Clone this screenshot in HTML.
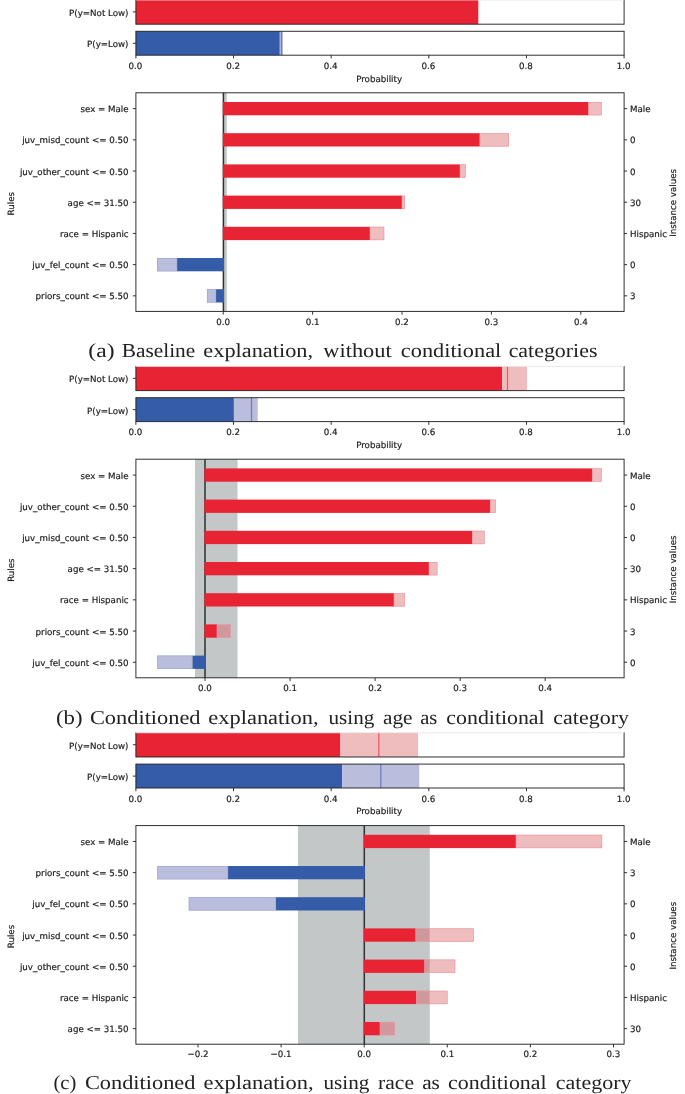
<!DOCTYPE html>
<html><head><meta charset="utf-8"><title>Explanations</title>
<style>html,body{margin:0;padding:0;background:#fff}svg{display:block}text{text-rendering:geometricPrecision;stroke:#1a1a1a;stroke-width:.18px}text.cap{stroke:none}</style></head>
<body>
<svg width="685" height="1094" viewBox="0 0 685 1094" font-family="'DejaVu Sans', 'Liberation Sans', sans-serif" font-size="8.68" fill="#1a1a1a">
<rect width="685" height="1094" fill="#fff"/>
<g transform="translate(0,0.00)">
<rect x="135.90" y="0.00" width="342.10" height="24.20" fill="#e82333" />
<rect x="478.00" y="0.00" width="1.20" height="24.20" fill="#f0bdbf" />
<line x1="135.90" y1="-0.40" x2="135.90" y2="24.60" stroke="#262626" stroke-width="0.95" />
<line x1="624.10" y1="-0.40" x2="624.10" y2="24.60" stroke="#262626" stroke-width="0.95" />
<line x1="135.90" y1="24.20" x2="624.10" y2="24.20" stroke="#262626" stroke-width="0.95" />
<line x1="135.90" y1="0.00" x2="624.10" y2="0.00" stroke="#e4e4e4" stroke-width="0.8" />
<line x1="132.90" y1="11.90" x2="135.90" y2="11.90" stroke="#262626" stroke-width="0.95" />
<text x="128.50" y="15.80" text-anchor="end" >P(y=Not Low)</text>
<rect x="135.90" y="31.30" width="143.90" height="23.90" fill="#355ca8" />
<rect x="279.80" y="31.30" width="3.10" height="23.90" fill="#bbbddc" />
<line x1="281.50" y1="31.30" x2="281.50" y2="55.20" stroke="#6f7cbe" stroke-width="1.25" />
<line x1="135.90" y1="30.90" x2="135.90" y2="55.60" stroke="#262626" stroke-width="0.95" />
<line x1="624.10" y1="30.90" x2="624.10" y2="55.60" stroke="#262626" stroke-width="0.95" />
<line x1="135.90" y1="55.20" x2="624.10" y2="55.20" stroke="#262626" stroke-width="0.95" />
<line x1="135.90" y1="31.30" x2="624.10" y2="31.30" stroke="#262626" stroke-width="0.95" />
<line x1="132.90" y1="43.30" x2="135.90" y2="43.30" stroke="#262626" stroke-width="0.95" />
<text x="128.50" y="47.30" text-anchor="end" >P(y=Low)</text>
<line x1="135.90" y1="55.20" x2="135.90" y2="58.40" stroke="#262626" stroke-width="0.95" />
<text x="135.40" y="68.80" text-anchor="middle" >0.0</text>
<line x1="233.54" y1="55.20" x2="233.54" y2="58.40" stroke="#262626" stroke-width="0.95" />
<text x="233.04" y="68.80" text-anchor="middle" >0.2</text>
<line x1="331.18" y1="55.20" x2="331.18" y2="58.40" stroke="#262626" stroke-width="0.95" />
<text x="330.68" y="68.80" text-anchor="middle" >0.4</text>
<line x1="428.82" y1="55.20" x2="428.82" y2="58.40" stroke="#262626" stroke-width="0.95" />
<text x="428.32" y="68.80" text-anchor="middle" >0.6</text>
<line x1="526.46" y1="55.20" x2="526.46" y2="58.40" stroke="#262626" stroke-width="0.95" />
<text x="525.96" y="68.80" text-anchor="middle" >0.8</text>
<line x1="624.10" y1="55.20" x2="624.10" y2="58.40" stroke="#262626" stroke-width="0.95" />
<text x="623.60" y="68.80" text-anchor="middle" >1.0</text>
<text x="379.10" y="81.70" text-anchor="middle" >Probability</text>
<rect x="223.40" y="92.80" width="3.40" height="218.60" fill="#c3c7c8" />
<line x1="223.40" y1="92.80" x2="223.40" y2="311.40" stroke="#2e3032" stroke-width="1.5" />
<rect x="222.80" y="102.00" width="365.70" height="13.30" fill="#e82333" />
<rect x="588.50" y="102.00" width="13.20" height="13.30" fill="#f0bdbf" />
<rect x="588.50" y="102.30" width="12.90" height="12.70" fill="none" stroke="#e79aa2" stroke-width="0.7" opacity="0.9"/>
<line x1="132.90" y1="108.65" x2="135.90" y2="108.65" stroke="#262626" stroke-width="0.95" />
<line x1="624.10" y1="108.65" x2="627.10" y2="108.65" stroke="#262626" stroke-width="0.95" />
<text x="128.60" y="112.15" text-anchor="end" >sex = Male</text>
<text x="630.00" y="112.15" text-anchor="start" >Male</text>
<rect x="222.80" y="133.20" width="257.10" height="13.30" fill="#e82333" />
<rect x="479.90" y="133.20" width="29.00" height="13.30" fill="#f0bdbf" />
<rect x="479.90" y="133.50" width="28.70" height="12.70" fill="none" stroke="#e79aa2" stroke-width="0.7" opacity="0.9"/>
<line x1="132.90" y1="139.85" x2="135.90" y2="139.85" stroke="#262626" stroke-width="0.95" />
<line x1="624.10" y1="139.85" x2="627.10" y2="139.85" stroke="#262626" stroke-width="0.95" />
<text x="128.60" y="143.35" text-anchor="end" >juv_misd_count &lt;= 0.50</text>
<text x="630.00" y="143.35" text-anchor="start" >0</text>
<rect x="222.80" y="164.40" width="237.20" height="13.30" fill="#e82333" />
<rect x="460.00" y="164.40" width="5.70" height="13.30" fill="#f0bdbf" />
<rect x="460.00" y="164.70" width="5.40" height="12.70" fill="none" stroke="#e79aa2" stroke-width="0.7" opacity="0.9"/>
<line x1="132.90" y1="171.05" x2="135.90" y2="171.05" stroke="#262626" stroke-width="0.95" />
<line x1="624.10" y1="171.05" x2="627.10" y2="171.05" stroke="#262626" stroke-width="0.95" />
<text x="128.60" y="174.55" text-anchor="end" >juv_other_count &lt;= 0.50</text>
<text x="630.00" y="174.55" text-anchor="start" >0</text>
<rect x="222.80" y="195.60" width="179.20" height="13.30" fill="#e82333" />
<rect x="402.00" y="195.60" width="3.00" height="13.30" fill="#f0bdbf" />
<rect x="402.00" y="195.90" width="2.70" height="12.70" fill="none" stroke="#e79aa2" stroke-width="0.7" opacity="0.9"/>
<line x1="132.90" y1="202.25" x2="135.90" y2="202.25" stroke="#262626" stroke-width="0.95" />
<line x1="624.10" y1="202.25" x2="627.10" y2="202.25" stroke="#262626" stroke-width="0.95" />
<text x="128.60" y="205.75" text-anchor="end" >age &lt;= 31.50</text>
<text x="630.00" y="205.75" text-anchor="start" >30</text>
<rect x="222.80" y="226.80" width="147.20" height="13.30" fill="#e82333" />
<rect x="370.00" y="226.80" width="14.20" height="13.30" fill="#f0bdbf" />
<rect x="370.00" y="227.10" width="13.90" height="12.70" fill="none" stroke="#e79aa2" stroke-width="0.7" opacity="0.9"/>
<line x1="132.90" y1="233.45" x2="135.90" y2="233.45" stroke="#262626" stroke-width="0.95" />
<line x1="624.10" y1="233.45" x2="627.10" y2="233.45" stroke="#262626" stroke-width="0.95" />
<text x="128.60" y="236.95" text-anchor="end" >race = Hispanic</text>
<text x="630.00" y="236.95" text-anchor="start" >Hispanic</text>
<rect x="176.90" y="258.00" width="47.10" height="13.30" fill="#355ca8" />
<rect x="157.10" y="258.00" width="19.80" height="13.30" fill="#bbbddc" />
<rect x="157.40" y="258.30" width="19.50" height="12.70" fill="none" stroke="#9da2cf" stroke-width="0.7" opacity="0.9"/>
<line x1="132.90" y1="264.65" x2="135.90" y2="264.65" stroke="#262626" stroke-width="0.95" />
<line x1="624.10" y1="264.65" x2="627.10" y2="264.65" stroke="#262626" stroke-width="0.95" />
<text x="128.60" y="268.15" text-anchor="end" >juv_fel_count &lt;= 0.50</text>
<text x="630.00" y="268.15" text-anchor="start" >0</text>
<rect x="215.80" y="289.20" width="8.20" height="13.30" fill="#355ca8" />
<rect x="207.00" y="289.20" width="8.80" height="13.30" fill="#bbbddc" />
<rect x="207.30" y="289.50" width="8.50" height="12.70" fill="none" stroke="#9da2cf" stroke-width="0.7" opacity="0.9"/>
<line x1="132.90" y1="295.85" x2="135.90" y2="295.85" stroke="#262626" stroke-width="0.95" />
<line x1="624.10" y1="295.85" x2="627.10" y2="295.85" stroke="#262626" stroke-width="0.95" />
<text x="128.60" y="299.35" text-anchor="end" >priors_count &lt;= 5.50</text>
<text x="630.00" y="299.35" text-anchor="start" >3</text>
<rect x="135.90" y="92.80" width="488.20" height="218.60" fill="none" stroke="#262626" stroke-width="0.95"/>
<line x1="223.20" y1="311.40" x2="223.20" y2="314.60" stroke="#262626" stroke-width="0.95" />
<text x="223.20" y="324.70" text-anchor="middle" >0.0</text>
<line x1="312.60" y1="311.40" x2="312.60" y2="314.60" stroke="#262626" stroke-width="0.95" />
<text x="312.60" y="324.70" text-anchor="middle" >0.1</text>
<line x1="402.00" y1="311.40" x2="402.00" y2="314.60" stroke="#262626" stroke-width="0.95" />
<text x="402.00" y="324.70" text-anchor="middle" >0.2</text>
<line x1="491.40" y1="311.40" x2="491.40" y2="314.60" stroke="#262626" stroke-width="0.95" />
<text x="491.40" y="324.70" text-anchor="middle" >0.3</text>
<line x1="580.80" y1="311.40" x2="580.80" y2="314.60" stroke="#262626" stroke-width="0.95" />
<text x="580.80" y="324.70" text-anchor="middle" >0.4</text>
<text transform="translate(14.1,203.70) rotate(-90)" text-anchor="middle">Rules</text>
<text transform="translate(676.2,202.90) rotate(-90)" text-anchor="middle">Instance values</text>
</g>
<g transform="translate(0,366.40)">
<rect x="135.90" y="0.00" width="366.40" height="24.20" fill="#e82333" />
<rect x="502.30" y="0.00" width="24.80" height="24.20" fill="#f0bdbf" />
<line x1="507.50" y1="0.00" x2="507.50" y2="24.20" stroke="#ea5a66" stroke-width="1.25" />
<line x1="135.90" y1="-0.40" x2="135.90" y2="24.60" stroke="#262626" stroke-width="0.95" />
<line x1="624.10" y1="-0.40" x2="624.10" y2="24.60" stroke="#262626" stroke-width="0.95" />
<line x1="135.90" y1="24.20" x2="624.10" y2="24.20" stroke="#262626" stroke-width="0.95" />
<line x1="135.90" y1="0.00" x2="624.10" y2="0.00" stroke="#e4e4e4" stroke-width="0.8" />
<line x1="132.90" y1="11.90" x2="135.90" y2="11.90" stroke="#262626" stroke-width="0.95" />
<text x="128.50" y="15.80" text-anchor="end" >P(y=Not Low)</text>
<rect x="135.90" y="31.30" width="98.00" height="23.90" fill="#355ca8" />
<rect x="233.90" y="31.30" width="23.80" height="23.90" fill="#bbbddc" />
<line x1="251.50" y1="31.30" x2="251.50" y2="55.20" stroke="#6f7cbe" stroke-width="1.25" />
<line x1="135.90" y1="30.90" x2="135.90" y2="55.60" stroke="#262626" stroke-width="0.95" />
<line x1="624.10" y1="30.90" x2="624.10" y2="55.60" stroke="#262626" stroke-width="0.95" />
<line x1="135.90" y1="55.20" x2="624.10" y2="55.20" stroke="#262626" stroke-width="0.95" />
<line x1="135.90" y1="31.30" x2="624.10" y2="31.30" stroke="#262626" stroke-width="0.95" />
<line x1="132.90" y1="43.30" x2="135.90" y2="43.30" stroke="#262626" stroke-width="0.95" />
<text x="128.50" y="47.30" text-anchor="end" >P(y=Low)</text>
<line x1="135.90" y1="55.20" x2="135.90" y2="58.40" stroke="#262626" stroke-width="0.95" />
<text x="135.40" y="68.80" text-anchor="middle" >0.0</text>
<line x1="233.54" y1="55.20" x2="233.54" y2="58.40" stroke="#262626" stroke-width="0.95" />
<text x="233.04" y="68.80" text-anchor="middle" >0.2</text>
<line x1="331.18" y1="55.20" x2="331.18" y2="58.40" stroke="#262626" stroke-width="0.95" />
<text x="330.68" y="68.80" text-anchor="middle" >0.4</text>
<line x1="428.82" y1="55.20" x2="428.82" y2="58.40" stroke="#262626" stroke-width="0.95" />
<text x="428.32" y="68.80" text-anchor="middle" >0.6</text>
<line x1="526.46" y1="55.20" x2="526.46" y2="58.40" stroke="#262626" stroke-width="0.95" />
<text x="525.96" y="68.80" text-anchor="middle" >0.8</text>
<line x1="624.10" y1="55.20" x2="624.10" y2="58.40" stroke="#262626" stroke-width="0.95" />
<text x="623.60" y="68.80" text-anchor="middle" >1.0</text>
<text x="379.10" y="81.70" text-anchor="middle" >Probability</text>
<rect x="195.00" y="92.80" width="42.50" height="218.60" fill="#c3c7c8" />
<line x1="205.00" y1="92.80" x2="205.00" y2="311.40" stroke="#2e3032" stroke-width="1.5" />
<rect x="204.40" y="102.00" width="387.90" height="13.30" fill="#e82333" />
<rect x="592.30" y="102.00" width="9.40" height="13.30" fill="#f0bdbf" />
<rect x="592.30" y="102.30" width="9.10" height="12.70" fill="none" stroke="#e79aa2" stroke-width="0.7" opacity="0.9"/>
<line x1="132.90" y1="108.65" x2="135.90" y2="108.65" stroke="#262626" stroke-width="0.95" />
<line x1="624.10" y1="108.65" x2="627.10" y2="108.65" stroke="#262626" stroke-width="0.95" />
<text x="128.60" y="112.15" text-anchor="end" >sex = Male</text>
<text x="630.00" y="112.15" text-anchor="start" >Male</text>
<rect x="204.40" y="133.20" width="285.90" height="13.30" fill="#e82333" />
<rect x="490.30" y="133.20" width="5.40" height="13.30" fill="#f0bdbf" />
<rect x="490.30" y="133.50" width="5.10" height="12.70" fill="none" stroke="#e79aa2" stroke-width="0.7" opacity="0.9"/>
<line x1="132.90" y1="139.85" x2="135.90" y2="139.85" stroke="#262626" stroke-width="0.95" />
<line x1="624.10" y1="139.85" x2="627.10" y2="139.85" stroke="#262626" stroke-width="0.95" />
<text x="128.60" y="143.35" text-anchor="end" >juv_other_count &lt;= 0.50</text>
<text x="630.00" y="143.35" text-anchor="start" >0</text>
<rect x="204.40" y="164.40" width="268.00" height="13.30" fill="#e82333" />
<rect x="472.40" y="164.40" width="12.20" height="13.30" fill="#f0bdbf" />
<rect x="472.40" y="164.70" width="11.90" height="12.70" fill="none" stroke="#e79aa2" stroke-width="0.7" opacity="0.9"/>
<line x1="132.90" y1="171.05" x2="135.90" y2="171.05" stroke="#262626" stroke-width="0.95" />
<line x1="624.10" y1="171.05" x2="627.10" y2="171.05" stroke="#262626" stroke-width="0.95" />
<text x="128.60" y="174.55" text-anchor="end" >juv_misd_count &lt;= 0.50</text>
<text x="630.00" y="174.55" text-anchor="start" >0</text>
<rect x="204.40" y="195.60" width="224.60" height="13.30" fill="#e82333" />
<rect x="429.00" y="195.60" width="8.40" height="13.30" fill="#f0bdbf" />
<rect x="429.00" y="195.90" width="8.10" height="12.70" fill="none" stroke="#e79aa2" stroke-width="0.7" opacity="0.9"/>
<line x1="132.90" y1="202.25" x2="135.90" y2="202.25" stroke="#262626" stroke-width="0.95" />
<line x1="624.10" y1="202.25" x2="627.10" y2="202.25" stroke="#262626" stroke-width="0.95" />
<text x="128.60" y="205.75" text-anchor="end" >age &lt;= 31.50</text>
<text x="630.00" y="205.75" text-anchor="start" >30</text>
<rect x="204.40" y="226.80" width="189.60" height="13.30" fill="#e82333" />
<rect x="394.00" y="226.80" width="10.90" height="13.30" fill="#f0bdbf" />
<rect x="394.00" y="227.10" width="10.60" height="12.70" fill="none" stroke="#e79aa2" stroke-width="0.7" opacity="0.9"/>
<line x1="132.90" y1="233.45" x2="135.90" y2="233.45" stroke="#262626" stroke-width="0.95" />
<line x1="624.10" y1="233.45" x2="627.10" y2="233.45" stroke="#262626" stroke-width="0.95" />
<text x="128.60" y="236.95" text-anchor="end" >race = Hispanic</text>
<text x="630.00" y="236.95" text-anchor="start" >Hispanic</text>
<rect x="204.40" y="258.00" width="12.60" height="13.30" fill="#e82333" />
<rect x="217.00" y="258.00" width="13.70" height="13.30" fill="#cf989d" />
<rect x="217.00" y="258.30" width="13.40" height="12.70" fill="none" stroke="#e79aa2" stroke-width="0.7" opacity="0.9"/>
<line x1="132.90" y1="264.65" x2="135.90" y2="264.65" stroke="#262626" stroke-width="0.95" />
<line x1="624.10" y1="264.65" x2="627.10" y2="264.65" stroke="#262626" stroke-width="0.95" />
<text x="128.60" y="268.15" text-anchor="end" >priors_count &lt;= 5.50</text>
<text x="630.00" y="268.15" text-anchor="start" >3</text>
<rect x="192.20" y="289.20" width="13.40" height="13.30" fill="#355ca8" />
<rect x="157.20" y="289.20" width="35.00" height="13.30" fill="#bbbddc" />
<rect x="157.50" y="289.50" width="34.70" height="12.70" fill="none" stroke="#9da2cf" stroke-width="0.7" opacity="0.9"/>
<line x1="132.90" y1="295.85" x2="135.90" y2="295.85" stroke="#262626" stroke-width="0.95" />
<line x1="624.10" y1="295.85" x2="627.10" y2="295.85" stroke="#262626" stroke-width="0.95" />
<text x="128.60" y="299.35" text-anchor="end" >juv_fel_count &lt;= 0.50</text>
<text x="630.00" y="299.35" text-anchor="start" >0</text>
<rect x="135.90" y="92.80" width="488.20" height="218.60" fill="none" stroke="#262626" stroke-width="0.95"/>
<line x1="205.00" y1="311.40" x2="205.00" y2="314.60" stroke="#262626" stroke-width="0.95" />
<text x="205.00" y="324.70" text-anchor="middle" >0.0</text>
<line x1="290.05" y1="311.40" x2="290.05" y2="314.60" stroke="#262626" stroke-width="0.95" />
<text x="290.05" y="324.70" text-anchor="middle" >0.1</text>
<line x1="375.10" y1="311.40" x2="375.10" y2="314.60" stroke="#262626" stroke-width="0.95" />
<text x="375.10" y="324.70" text-anchor="middle" >0.2</text>
<line x1="460.15" y1="311.40" x2="460.15" y2="314.60" stroke="#262626" stroke-width="0.95" />
<text x="460.15" y="324.70" text-anchor="middle" >0.3</text>
<line x1="545.20" y1="311.40" x2="545.20" y2="314.60" stroke="#262626" stroke-width="0.95" />
<text x="545.20" y="324.70" text-anchor="middle" >0.4</text>
<text transform="translate(14.1,203.70) rotate(-90)" text-anchor="middle">Rules</text>
<text transform="translate(676.2,202.90) rotate(-90)" text-anchor="middle">Instance values</text>
</g>
<g transform="translate(0,732.80)">
<rect x="135.90" y="0.00" width="204.50" height="24.20" fill="#e82333" />
<rect x="340.40" y="0.00" width="77.60" height="24.20" fill="#f0bdbf" />
<line x1="378.80" y1="0.00" x2="378.80" y2="24.20" stroke="#ea5a66" stroke-width="1.25" />
<line x1="135.90" y1="-0.40" x2="135.90" y2="24.60" stroke="#262626" stroke-width="0.95" />
<line x1="624.10" y1="-0.40" x2="624.10" y2="24.60" stroke="#262626" stroke-width="0.95" />
<line x1="135.90" y1="24.20" x2="624.10" y2="24.20" stroke="#262626" stroke-width="0.95" />
<line x1="135.90" y1="0.00" x2="624.10" y2="0.00" stroke="#e4e4e4" stroke-width="0.8" />
<line x1="132.90" y1="11.90" x2="135.90" y2="11.90" stroke="#262626" stroke-width="0.95" />
<text x="128.50" y="15.80" text-anchor="end" >P(y=Not Low)</text>
<rect x="135.90" y="31.30" width="206.20" height="23.90" fill="#355ca8" />
<rect x="342.10" y="31.30" width="77.20" height="23.90" fill="#bbbddc" />
<line x1="380.80" y1="31.30" x2="380.80" y2="55.20" stroke="#6f7cbe" stroke-width="1.25" />
<line x1="135.90" y1="30.90" x2="135.90" y2="55.60" stroke="#262626" stroke-width="0.95" />
<line x1="624.10" y1="30.90" x2="624.10" y2="55.60" stroke="#262626" stroke-width="0.95" />
<line x1="135.90" y1="55.20" x2="624.10" y2="55.20" stroke="#262626" stroke-width="0.95" />
<line x1="135.90" y1="31.30" x2="624.10" y2="31.30" stroke="#262626" stroke-width="0.95" />
<line x1="132.90" y1="43.30" x2="135.90" y2="43.30" stroke="#262626" stroke-width="0.95" />
<text x="128.50" y="47.30" text-anchor="end" >P(y=Low)</text>
<line x1="135.90" y1="55.20" x2="135.90" y2="58.40" stroke="#262626" stroke-width="0.95" />
<text x="135.40" y="68.80" text-anchor="middle" >0.0</text>
<line x1="233.54" y1="55.20" x2="233.54" y2="58.40" stroke="#262626" stroke-width="0.95" />
<text x="233.04" y="68.80" text-anchor="middle" >0.2</text>
<line x1="331.18" y1="55.20" x2="331.18" y2="58.40" stroke="#262626" stroke-width="0.95" />
<text x="330.68" y="68.80" text-anchor="middle" >0.4</text>
<line x1="428.82" y1="55.20" x2="428.82" y2="58.40" stroke="#262626" stroke-width="0.95" />
<text x="428.32" y="68.80" text-anchor="middle" >0.6</text>
<line x1="526.46" y1="55.20" x2="526.46" y2="58.40" stroke="#262626" stroke-width="0.95" />
<text x="525.96" y="68.80" text-anchor="middle" >0.8</text>
<line x1="624.10" y1="55.20" x2="624.10" y2="58.40" stroke="#262626" stroke-width="0.95" />
<text x="623.60" y="68.80" text-anchor="middle" >1.0</text>
<text x="379.10" y="81.70" text-anchor="middle" >Probability</text>
<rect x="298.00" y="92.80" width="131.80" height="218.60" fill="#c3c7c8" />
<line x1="364.30" y1="92.80" x2="364.30" y2="311.40" stroke="#2e3032" stroke-width="1.5" />
<rect x="363.70" y="102.00" width="152.30" height="13.30" fill="#e82333" />
<rect x="516.00" y="102.00" width="86.10" height="13.30" fill="#f0bdbf" />
<rect x="516.00" y="102.30" width="85.80" height="12.70" fill="none" stroke="#e79aa2" stroke-width="0.7" opacity="0.9"/>
<line x1="132.90" y1="108.65" x2="135.90" y2="108.65" stroke="#262626" stroke-width="0.95" />
<line x1="624.10" y1="108.65" x2="627.10" y2="108.65" stroke="#262626" stroke-width="0.95" />
<text x="128.60" y="112.15" text-anchor="end" >sex = Male</text>
<text x="630.00" y="112.15" text-anchor="start" >Male</text>
<rect x="227.80" y="133.20" width="137.10" height="13.30" fill="#355ca8" />
<rect x="157.30" y="133.20" width="70.50" height="13.30" fill="#bbbddc" />
<rect x="157.60" y="133.50" width="70.20" height="12.70" fill="none" stroke="#9da2cf" stroke-width="0.7" opacity="0.9"/>
<line x1="132.90" y1="139.85" x2="135.90" y2="139.85" stroke="#262626" stroke-width="0.95" />
<line x1="624.10" y1="139.85" x2="627.10" y2="139.85" stroke="#262626" stroke-width="0.95" />
<text x="128.60" y="143.35" text-anchor="end" >priors_count &lt;= 5.50</text>
<text x="630.00" y="143.35" text-anchor="start" >3</text>
<rect x="275.70" y="164.40" width="89.20" height="13.30" fill="#355ca8" />
<rect x="188.80" y="164.40" width="86.90" height="13.30" fill="#bbbddc" />
<rect x="189.10" y="164.70" width="86.60" height="12.70" fill="none" stroke="#9da2cf" stroke-width="0.7" opacity="0.9"/>
<line x1="132.90" y1="171.05" x2="135.90" y2="171.05" stroke="#262626" stroke-width="0.95" />
<line x1="624.10" y1="171.05" x2="627.10" y2="171.05" stroke="#262626" stroke-width="0.95" />
<text x="128.60" y="174.55" text-anchor="end" >juv_fel_count &lt;= 0.50</text>
<text x="630.00" y="174.55" text-anchor="start" >0</text>
<rect x="363.70" y="195.60" width="52.10" height="13.30" fill="#e82333" />
<rect x="415.80" y="195.60" width="14.00" height="13.30" fill="#cf989d" />
<rect x="429.80" y="195.60" width="44.00" height="13.30" fill="#f0bdbf" />
<rect x="415.80" y="195.90" width="57.70" height="12.70" fill="none" stroke="#e79aa2" stroke-width="0.7" opacity="0.9"/>
<line x1="132.90" y1="202.25" x2="135.90" y2="202.25" stroke="#262626" stroke-width="0.95" />
<line x1="624.10" y1="202.25" x2="627.10" y2="202.25" stroke="#262626" stroke-width="0.95" />
<text x="128.60" y="205.75" text-anchor="end" >juv_misd_count &lt;= 0.50</text>
<text x="630.00" y="205.75" text-anchor="start" >0</text>
<rect x="363.70" y="226.80" width="61.00" height="13.30" fill="#e82333" />
<rect x="424.70" y="226.80" width="5.10" height="13.30" fill="#cf989d" />
<rect x="429.80" y="226.80" width="25.40" height="13.30" fill="#f0bdbf" />
<rect x="424.70" y="227.10" width="30.20" height="12.70" fill="none" stroke="#e79aa2" stroke-width="0.7" opacity="0.9"/>
<line x1="132.90" y1="233.45" x2="135.90" y2="233.45" stroke="#262626" stroke-width="0.95" />
<line x1="624.10" y1="233.45" x2="627.10" y2="233.45" stroke="#262626" stroke-width="0.95" />
<text x="128.60" y="236.95" text-anchor="end" >juv_other_count &lt;= 0.50</text>
<text x="630.00" y="236.95" text-anchor="start" >0</text>
<rect x="363.70" y="258.00" width="52.80" height="13.30" fill="#e82333" />
<rect x="416.50" y="258.00" width="13.30" height="13.30" fill="#cf989d" />
<rect x="429.80" y="258.00" width="17.70" height="13.30" fill="#f0bdbf" />
<rect x="416.50" y="258.30" width="30.70" height="12.70" fill="none" stroke="#e79aa2" stroke-width="0.7" opacity="0.9"/>
<line x1="132.90" y1="264.65" x2="135.90" y2="264.65" stroke="#262626" stroke-width="0.95" />
<line x1="624.10" y1="264.65" x2="627.10" y2="264.65" stroke="#262626" stroke-width="0.95" />
<text x="128.60" y="268.15" text-anchor="end" >race = Hispanic</text>
<text x="630.00" y="268.15" text-anchor="start" >Hispanic</text>
<rect x="363.70" y="289.20" width="16.30" height="13.30" fill="#e82333" />
<rect x="380.00" y="289.20" width="14.90" height="13.30" fill="#cf989d" />
<rect x="380.00" y="289.50" width="14.60" height="12.70" fill="none" stroke="#e79aa2" stroke-width="0.7" opacity="0.9"/>
<line x1="132.90" y1="295.85" x2="135.90" y2="295.85" stroke="#262626" stroke-width="0.95" />
<line x1="624.10" y1="295.85" x2="627.10" y2="295.85" stroke="#262626" stroke-width="0.95" />
<text x="128.60" y="299.35" text-anchor="end" >age &lt;= 31.50</text>
<text x="630.00" y="299.35" text-anchor="start" >30</text>
<rect x="135.90" y="92.80" width="488.20" height="218.60" fill="none" stroke="#262626" stroke-width="0.95"/>
<line x1="198.00" y1="311.40" x2="198.00" y2="314.60" stroke="#262626" stroke-width="0.95" />
<text x="198.00" y="324.70" text-anchor="middle" >−0.2</text>
<line x1="281.10" y1="311.40" x2="281.10" y2="314.60" stroke="#262626" stroke-width="0.95" />
<text x="281.10" y="324.70" text-anchor="middle" >−0.1</text>
<line x1="364.20" y1="311.40" x2="364.20" y2="314.60" stroke="#262626" stroke-width="0.95" />
<text x="364.20" y="324.70" text-anchor="middle" >0.0</text>
<line x1="447.30" y1="311.40" x2="447.30" y2="314.60" stroke="#262626" stroke-width="0.95" />
<text x="447.30" y="324.70" text-anchor="middle" >0.1</text>
<line x1="530.40" y1="311.40" x2="530.40" y2="314.60" stroke="#262626" stroke-width="0.95" />
<text x="530.40" y="324.70" text-anchor="middle" >0.2</text>
<line x1="613.50" y1="311.40" x2="613.50" y2="314.60" stroke="#262626" stroke-width="0.95" />
<text x="613.50" y="324.70" text-anchor="middle" >0.3</text>
<text transform="translate(14.1,203.70) rotate(-90)" text-anchor="middle">Rules</text>
<text transform="translate(676.2,202.90) rotate(-90)" text-anchor="middle">Instance values</text>
</g>
<text class="cap" y="357.3" font-family="'Liberation Serif', serif" font-size="19.8" fill="#222"><tspan x="88.35" textLength="26.20" lengthAdjust="spacingAndGlyphs">(a)</tspan> <tspan x="121.75" textLength="73.51" lengthAdjust="spacingAndGlyphs">Baseline</tspan> <tspan x="203.35" textLength="109.70" lengthAdjust="spacingAndGlyphs">explanation,</tspan> <tspan x="323.35" textLength="68.29" lengthAdjust="spacingAndGlyphs">without</tspan> <tspan x="400.85" textLength="100.40" lengthAdjust="spacingAndGlyphs">conditional</tspan> <tspan x="508.65" textLength="88.80" lengthAdjust="spacingAndGlyphs">categories</tspan></text>
<text class="cap" y="723.6" font-family="'Liberation Serif', serif" font-size="19.8" fill="#222"><tspan x="55.95" textLength="26.60" lengthAdjust="spacingAndGlyphs">(b)</tspan> <tspan x="89.95" textLength="110.61" lengthAdjust="spacingAndGlyphs">Conditioned</tspan> <tspan x="208.35" textLength="110.20" lengthAdjust="spacingAndGlyphs">explanation,</tspan> <tspan x="328.55" textLength="45.80" lengthAdjust="spacingAndGlyphs">using</tspan> <tspan x="383.05" textLength="29.49" lengthAdjust="spacingAndGlyphs">age</tspan> <tspan x="420.25" textLength="17.10" lengthAdjust="spacingAndGlyphs">as</tspan> <tspan x="446.35" textLength="98.30" lengthAdjust="spacingAndGlyphs">conditional</tspan> <tspan x="553.35" textLength="75.71" lengthAdjust="spacingAndGlyphs">category</tspan></text>
<text class="cap" y="1089.2" font-family="'Liberation Serif', serif" font-size="19.8" fill="#222"><tspan x="53.45" textLength="22.90" lengthAdjust="spacingAndGlyphs">(c)</tspan> <tspan x="84.95" textLength="110.51" lengthAdjust="spacingAndGlyphs">Conditioned</tspan> <tspan x="203.45" textLength="110.20" lengthAdjust="spacingAndGlyphs">explanation,</tspan> <tspan x="323.45" textLength="45.90" lengthAdjust="spacingAndGlyphs">using</tspan> <tspan x="378.05" textLength="35.99" lengthAdjust="spacingAndGlyphs">race</tspan> <tspan x="422.15" textLength="17.70" lengthAdjust="spacingAndGlyphs">as</tspan> <tspan x="448.05" textLength="98.60" lengthAdjust="spacingAndGlyphs">conditional</tspan> <tspan x="555.85" textLength="75.71" lengthAdjust="spacingAndGlyphs">category</tspan></text>
</svg>
</body></html>
